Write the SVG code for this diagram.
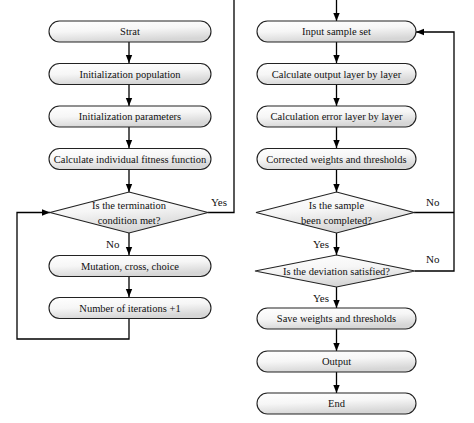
<svg xmlns="http://www.w3.org/2000/svg" width="474" height="423" viewBox="0 0 474 423" font-family="'Liberation Serif', 'Times New Roman', serif">
<defs>
<linearGradient id="g" x1="0" y1="0" x2="0.3" y2="1">
<stop offset="0" stop-color="#ffffff"/>
<stop offset="0.5" stop-color="#f6f6f6"/>
<stop offset="1" stop-color="#d6d6d6"/>
</linearGradient>
<marker id="ah" markerWidth="8" markerHeight="8" refX="8" refY="4" orient="auto" markerUnits="userSpaceOnUse">
<path d="M0,0.8 L8,4 L0,7.2 Z" fill="#000"/>
</marker>
<style>
.n{fill:url(#g);stroke:#222;stroke-width:1.1}
.t{font-size:10.5px;fill:#111;text-anchor:middle}
.l{font-size:11px;fill:#111}
.c{fill:none;stroke:#000;stroke-width:1.3}
</style>
</defs>
<rect width="474" height="423" fill="#fff"/>
<g id="connectors">
<path class="c" d="M129,42V63" marker-end="url(#ah)"/>
<path class="c" d="M129,85V106" marker-end="url(#ah)"/>
<path class="c" d="M129,127V148" marker-end="url(#ah)"/>
<path class="c" d="M129,170V192" marker-end="url(#ah)"/>
<path class="c" d="M129,233V255" marker-end="url(#ah)"/>
<path class="c" d="M129,277V297" marker-end="url(#ah)"/>
<path class="c" d="M129,319V339H17V212.5H50" marker-end="url(#ah)"/>
<path class="c" d="M208,212.5H234V0"/>
<path class="c" d="M336.5,0V21" marker-end="url(#ah)"/>
<path class="c" d="M336.5,42V63" marker-end="url(#ah)"/>
<path class="c" d="M336.5,85V106" marker-end="url(#ah)"/>
<path class="c" d="M336.5,127V148" marker-end="url(#ah)"/>
<path class="c" d="M336.5,170V192" marker-end="url(#ah)"/>
<path class="c" d="M336.5,233V255" marker-end="url(#ah)"/>
<path class="c" d="M336.5,287V308" marker-end="url(#ah)"/>
<path class="c" d="M336.5,329V351" marker-end="url(#ah)"/>
<path class="c" d="M336.5,372V393" marker-end="url(#ah)"/>
<path class="c" d="M414,212.5H454"/>
<path class="c" d="M415,271H454V32H416" marker-end="url(#ah)"/>
<text class="l" x="211" y="206">Yes</text>
<text class="l" x="106" y="248">No</text>
<text class="l" x="426" y="206">No</text>
<text class="l" x="313" y="248">Yes</text>
<text class="l" x="426" y="263">No</text>
<text class="l" x="313" y="302">Yes</text>
</g>
<g id="strat"><rect class="n" x="49" y="21" width="162" height="21" rx="10.5"/><text class="t" x="130" y="35">Strat</text></g>
<g id="init-pop"><rect class="n" x="49" y="63.5" width="162" height="21" rx="10.5"/><text class="t" x="130" y="77.5">Initialization population</text></g>
<g id="init-param"><rect class="n" x="49" y="106" width="162" height="21" rx="10.5"/><text class="t" x="130" y="120">Initialization parameters</text></g>
<g id="fitness"><rect class="n" x="49" y="148.5" width="162" height="21" rx="10.5"/><text class="t" x="130" y="162.5">Calculate individual fitness function</text></g>
<g id="termination"><polygon class="n" points="129,192 208,212.5 129,233 50,212.5"/><text class="t" x="129" y="209">Is the termination</text><text class="t" x="129" y="223.5">condition met?</text></g>
<g id="mutation"><rect class="n" x="49" y="255.5" width="162" height="21" rx="10.5"/><text class="t" x="130" y="269.5">Mutation, cross, choice</text></g>
<g id="iterations"><rect class="n" x="49" y="297.5" width="162" height="21" rx="10.5"/><text class="t" x="130" y="311.5">Number of iterations +1</text></g>
<g id="input"><rect class="n" x="257" y="21" width="159" height="21" rx="10.5"/><text class="t" x="336.5" y="35">Input sample set</text></g>
<g id="calc-output"><rect class="n" x="257" y="63.5" width="159" height="21" rx="10.5"/><text class="t" x="336.5" y="77.5">Calculate output layer by layer</text></g>
<g id="calc-error"><rect class="n" x="257" y="106" width="159" height="21" rx="10.5"/><text class="t" x="336.5" y="120">Calculation error layer by layer</text></g>
<g id="corrected"><rect class="n" x="257" y="148.5" width="159" height="21" rx="10.5"/><text class="t" x="336.5" y="162.5">Corrected weights and thresholds</text></g>
<g id="sample-done"><polygon class="n" points="336.5,192 414,212.5 336.5,233 256,212.5"/><text class="t" x="336.5" y="209">Is the sample</text><text class="t" x="336.5" y="223.5">been completed?</text></g>
<g id="deviation"><polygon class="n" points="336.5,255 415,271 336.5,287 255,271"/><text class="t" x="336.5" y="274.5">Is the deviation satisfied?</text></g>
<g id="save"><rect class="n" x="257" y="308" width="159" height="21" rx="10.5"/><text class="t" x="336.5" y="322">Save weights and thresholds</text></g>
<g id="output"><rect class="n" x="257" y="351" width="159" height="21" rx="10.5"/><text class="t" x="336.5" y="365">Output</text></g>
<g id="end"><rect class="n" x="257" y="393" width="159" height="21" rx="10.5"/><text class="t" x="336.5" y="407">End</text></g>
</svg>
